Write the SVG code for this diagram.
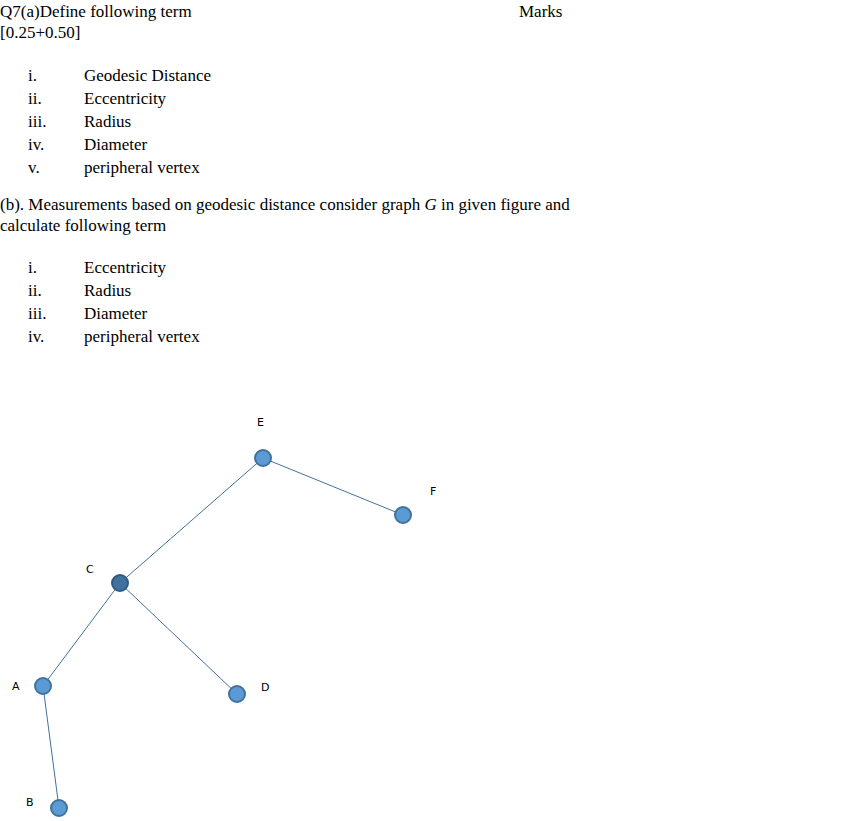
<svg xmlns="http://www.w3.org/2000/svg" width="842" height="821" viewBox="0 0 842 821">
<style>
text{font-family:"Liberation Serif",serif;font-size:17px;fill:#000}
.l{font-family:"DejaVu Sans",sans-serif;font-size:11px}
.e{stroke:#41719c;stroke-width:1}
circle{fill:#5b9bd5;stroke:#41719c;stroke-width:2}
</style>
<rect width="842" height="821" fill="#fff"/>
<text x="0" y="17">Q7(a)Define following term</text>
<text x="519" y="17">Marks</text>
<text x="0" y="38">[0.25+0.50]</text>
<text x="28" y="81">i.</text><text x="84" y="81">Geodesic Distance</text>
<text x="28" y="104">ii.</text><text x="84" y="104">Eccentricity</text>
<text x="28" y="127">iii.</text><text x="84" y="127">Radius</text>
<text x="28" y="150">iv.</text><text x="84" y="150">Diameter</text>
<text x="28" y="173">v.</text><text x="84" y="173">peripheral vertex</text>
<text x="0" y="210">(b). Measurements based on geodesic distance consider graph <tspan font-style="italic">G</tspan> in given figure and</text>
<text x="0" y="231">calculate following term</text>
<text x="28" y="273">i.</text><text x="84" y="273">Eccentricity</text>
<text x="28" y="296">ii.</text><text x="84" y="296">Radius</text>
<text x="28" y="319">iii.</text><text x="84" y="319">Diameter</text>
<text x="28" y="342">iv.</text><text x="84" y="342">peripheral vertex</text>
<g id="connectors">
<line class="e" x1="263" y1="458" x2="403" y2="515"/>
<line class="e" x1="263" y1="458" x2="120" y2="583"/>
<line class="e" x1="120" y1="583" x2="43" y2="686"/>
<line class="e" x1="120" y1="583" x2="237" y2="694"/>
<line class="e" x1="43" y1="686" x2="59" y2="808"/>
</g>
<g id="E"><circle cx="263" cy="458" r="8"/><text class="l" x="257" y="426">E</text></g>
<g id="F"><circle cx="403" cy="515" r="8"/><text class="l" x="430" y="495">F</text></g>
<g id="C"><circle cx="120" cy="583" r="8" style="fill:#41719c;stroke:#2e5a85"/><text class="l" x="86" y="573">C</text></g>
<g id="A"><circle cx="43" cy="686" r="8"/><text class="l" x="12" y="690">A</text></g>
<g id="D"><circle cx="237" cy="694" r="8"/><text class="l" x="261" y="691">D</text></g>
<g id="B"><circle cx="59" cy="808" r="8"/><text class="l" x="26" y="806">B</text></g>
</svg>
